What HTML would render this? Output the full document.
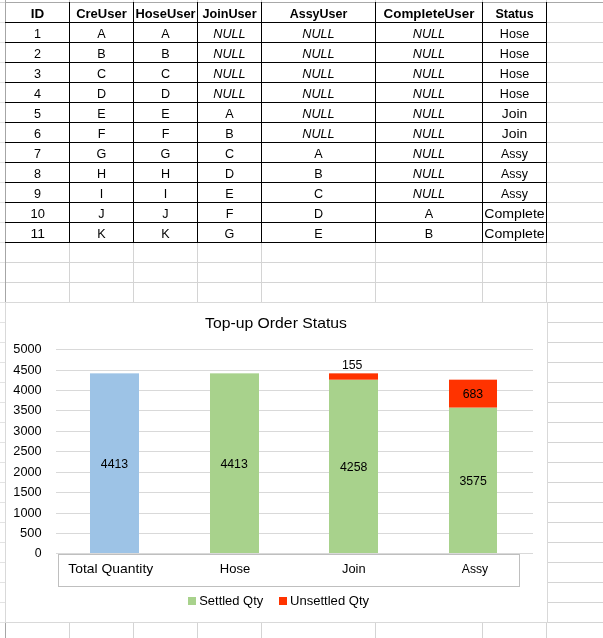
<!DOCTYPE html>
<html><head><meta charset="utf-8"><style>
html,body{margin:0;padding:0;background:#fff;width:603px;height:638px;overflow:hidden}
svg{display:block;will-change:transform;font-family:"Liberation Sans",sans-serif}
</style></head><body>
<svg width="603" height="638" viewBox="0 0 603 638">
<rect x="0" y="0" width="603" height="638" fill="#fff"/>
<rect x="0" y="2" width="5" height="1" fill="#E3E3E3"/>
<rect x="6" y="2" width="597" height="1" fill="#D4D4D4"/>
<rect x="0" y="22" width="5" height="1" fill="#E3E3E3"/>
<rect x="6" y="22" width="597" height="1" fill="#D4D4D4"/>
<rect x="0" y="42" width="5" height="1" fill="#E3E3E3"/>
<rect x="6" y="42" width="597" height="1" fill="#D4D4D4"/>
<rect x="0" y="62" width="5" height="1" fill="#E3E3E3"/>
<rect x="6" y="62" width="597" height="1" fill="#D4D4D4"/>
<rect x="0" y="82" width="5" height="1" fill="#E3E3E3"/>
<rect x="6" y="82" width="597" height="1" fill="#D4D4D4"/>
<rect x="0" y="102" width="5" height="1" fill="#E3E3E3"/>
<rect x="6" y="102" width="597" height="1" fill="#D4D4D4"/>
<rect x="0" y="122" width="5" height="1" fill="#E3E3E3"/>
<rect x="6" y="122" width="597" height="1" fill="#D4D4D4"/>
<rect x="0" y="142" width="5" height="1" fill="#E3E3E3"/>
<rect x="6" y="142" width="597" height="1" fill="#D4D4D4"/>
<rect x="0" y="162" width="5" height="1" fill="#E3E3E3"/>
<rect x="6" y="162" width="597" height="1" fill="#D4D4D4"/>
<rect x="0" y="182" width="5" height="1" fill="#E3E3E3"/>
<rect x="6" y="182" width="597" height="1" fill="#D4D4D4"/>
<rect x="0" y="202" width="5" height="1" fill="#E3E3E3"/>
<rect x="6" y="202" width="597" height="1" fill="#D4D4D4"/>
<rect x="0" y="222" width="5" height="1" fill="#E3E3E3"/>
<rect x="6" y="222" width="597" height="1" fill="#D4D4D4"/>
<rect x="0" y="242" width="5" height="1" fill="#E3E3E3"/>
<rect x="6" y="242" width="597" height="1" fill="#D4D4D4"/>
<rect x="0" y="262" width="5" height="1" fill="#E3E3E3"/>
<rect x="6" y="262" width="597" height="1" fill="#D4D4D4"/>
<rect x="0" y="282" width="5" height="1" fill="#E3E3E3"/>
<rect x="6" y="282" width="597" height="1" fill="#D4D4D4"/>
<rect x="0" y="302" width="5" height="1" fill="#E3E3E3"/>
<rect x="6" y="302" width="597" height="1" fill="#D4D4D4"/>
<rect x="0" y="322" width="5" height="1" fill="#E3E3E3"/>
<rect x="6" y="322" width="597" height="1" fill="#D4D4D4"/>
<rect x="0" y="342" width="5" height="1" fill="#E3E3E3"/>
<rect x="6" y="342" width="597" height="1" fill="#D4D4D4"/>
<rect x="0" y="362" width="5" height="1" fill="#E3E3E3"/>
<rect x="6" y="362" width="597" height="1" fill="#D4D4D4"/>
<rect x="0" y="382" width="5" height="1" fill="#E3E3E3"/>
<rect x="6" y="382" width="597" height="1" fill="#D4D4D4"/>
<rect x="0" y="402" width="5" height="1" fill="#E3E3E3"/>
<rect x="6" y="402" width="597" height="1" fill="#D4D4D4"/>
<rect x="0" y="422" width="5" height="1" fill="#E3E3E3"/>
<rect x="6" y="422" width="597" height="1" fill="#D4D4D4"/>
<rect x="0" y="442" width="5" height="1" fill="#E3E3E3"/>
<rect x="6" y="442" width="597" height="1" fill="#D4D4D4"/>
<rect x="0" y="462" width="5" height="1" fill="#E3E3E3"/>
<rect x="6" y="462" width="597" height="1" fill="#D4D4D4"/>
<rect x="0" y="482" width="5" height="1" fill="#E3E3E3"/>
<rect x="6" y="482" width="597" height="1" fill="#D4D4D4"/>
<rect x="0" y="502" width="5" height="1" fill="#E3E3E3"/>
<rect x="6" y="502" width="597" height="1" fill="#D4D4D4"/>
<rect x="0" y="522" width="5" height="1" fill="#E3E3E3"/>
<rect x="6" y="522" width="597" height="1" fill="#D4D4D4"/>
<rect x="0" y="542" width="5" height="1" fill="#E3E3E3"/>
<rect x="6" y="542" width="597" height="1" fill="#D4D4D4"/>
<rect x="0" y="562" width="5" height="1" fill="#E3E3E3"/>
<rect x="6" y="562" width="597" height="1" fill="#D4D4D4"/>
<rect x="0" y="582" width="5" height="1" fill="#E3E3E3"/>
<rect x="6" y="582" width="597" height="1" fill="#D4D4D4"/>
<rect x="0" y="602" width="5" height="1" fill="#E3E3E3"/>
<rect x="6" y="602" width="597" height="1" fill="#D4D4D4"/>
<rect x="0" y="622" width="5" height="1" fill="#E3E3E3"/>
<rect x="6" y="622" width="597" height="1" fill="#D4D4D4"/>
<rect x="69" y="0" width="1" height="638" fill="#D4D4D4"/>
<rect x="133" y="0" width="1" height="638" fill="#D4D4D4"/>
<rect x="197" y="0" width="1" height="638" fill="#D4D4D4"/>
<rect x="261" y="0" width="1" height="638" fill="#D4D4D4"/>
<rect x="375" y="0" width="1" height="638" fill="#D4D4D4"/>
<rect x="482" y="0" width="1" height="638" fill="#D4D4D4"/>
<rect x="546" y="0" width="1" height="638" fill="#D4D4D4"/>
<rect x="5" y="0" width="1" height="638" fill="#A6A6A6"/>
<rect x="0" y="2" width="5" height="1" fill="#D4D4D4"/>
<rect x="5" y="2" width="598" height="1" fill="#A8A8A8"/>
<rect x="5" y="22" width="542" height="1" fill="#000"/>
<rect x="5" y="42" width="542" height="1" fill="#000"/>
<rect x="5" y="62" width="542" height="1" fill="#000"/>
<rect x="5" y="82" width="542" height="1" fill="#000"/>
<rect x="5" y="102" width="542" height="1" fill="#000"/>
<rect x="5" y="122" width="542" height="1" fill="#000"/>
<rect x="5" y="142" width="542" height="1" fill="#000"/>
<rect x="5" y="162" width="542" height="1" fill="#000"/>
<rect x="5" y="182" width="542" height="1" fill="#000"/>
<rect x="5" y="202" width="542" height="1" fill="#000"/>
<rect x="5" y="222" width="542" height="1" fill="#000"/>
<rect x="5" y="242" width="542" height="1" fill="#000"/>
<rect x="69" y="2" width="1" height="241" fill="#000"/>
<rect x="133" y="2" width="1" height="241" fill="#000"/>
<rect x="197" y="2" width="1" height="241" fill="#000"/>
<rect x="261" y="2" width="1" height="241" fill="#000"/>
<rect x="375" y="2" width="1" height="241" fill="#000"/>
<rect x="482" y="2" width="1" height="241" fill="#000"/>
<rect x="546" y="2" width="1" height="241" fill="#000"/>
<text x="37.50" y="18.00" font-size="12.6" font-weight="bold" text-anchor="middle" textLength="13.48" lengthAdjust="spacingAndGlyphs">ID</text>
<text x="101.50" y="18.00" font-size="12.6" font-weight="bold" text-anchor="middle" textLength="50.67" lengthAdjust="spacingAndGlyphs">CreUser</text>
<text x="165.50" y="18.00" font-size="12.6" font-weight="bold" text-anchor="middle" textLength="60.15" lengthAdjust="spacingAndGlyphs">HoseUser</text>
<text x="229.50" y="18.00" font-size="12.6" font-weight="bold" text-anchor="middle" textLength="54.20" lengthAdjust="spacingAndGlyphs">JoinUser</text>
<text x="318.50" y="18.00" font-size="12.6" font-weight="bold" text-anchor="middle" textLength="57.55" lengthAdjust="spacingAndGlyphs">AssyUser</text>
<text x="429.00" y="18.00" font-size="12.6" font-weight="bold" text-anchor="middle" textLength="90.80" lengthAdjust="spacingAndGlyphs">CompleteUser</text>
<text x="514.50" y="18.00" font-size="12.6" font-weight="bold" text-anchor="middle" textLength="38.25" lengthAdjust="spacingAndGlyphs">Status</text>
<text x="37.50" y="38.00" font-size="12.6" text-anchor="middle">1</text>
<text x="101.50" y="38.00" font-size="12.6" text-anchor="middle">A</text>
<text x="165.50" y="38.00" font-size="12.6" text-anchor="middle">A</text>
<text x="229.50" y="38.00" font-size="12.6" font-style="italic" text-anchor="middle" textLength="32.35" lengthAdjust="spacingAndGlyphs">NULL</text>
<text x="318.50" y="38.00" font-size="12.6" font-style="italic" text-anchor="middle" textLength="32.35" lengthAdjust="spacingAndGlyphs">NULL</text>
<text x="429.00" y="38.00" font-size="12.6" font-style="italic" text-anchor="middle" textLength="32.35" lengthAdjust="spacingAndGlyphs">NULL</text>
<text x="514.50" y="38.00" font-size="12.6" text-anchor="middle">Hose</text>
<text x="37.50" y="58.00" font-size="12.6" text-anchor="middle">2</text>
<text x="101.50" y="58.00" font-size="12.6" text-anchor="middle">B</text>
<text x="165.50" y="58.00" font-size="12.6" text-anchor="middle">B</text>
<text x="229.50" y="58.00" font-size="12.6" font-style="italic" text-anchor="middle" textLength="32.35" lengthAdjust="spacingAndGlyphs">NULL</text>
<text x="318.50" y="58.00" font-size="12.6" font-style="italic" text-anchor="middle" textLength="32.35" lengthAdjust="spacingAndGlyphs">NULL</text>
<text x="429.00" y="58.00" font-size="12.6" font-style="italic" text-anchor="middle" textLength="32.35" lengthAdjust="spacingAndGlyphs">NULL</text>
<text x="514.50" y="58.00" font-size="12.6" text-anchor="middle">Hose</text>
<text x="37.50" y="78.00" font-size="12.6" text-anchor="middle">3</text>
<text x="101.50" y="78.00" font-size="12.6" text-anchor="middle">C</text>
<text x="165.50" y="78.00" font-size="12.6" text-anchor="middle">C</text>
<text x="229.50" y="78.00" font-size="12.6" font-style="italic" text-anchor="middle" textLength="32.35" lengthAdjust="spacingAndGlyphs">NULL</text>
<text x="318.50" y="78.00" font-size="12.6" font-style="italic" text-anchor="middle" textLength="32.35" lengthAdjust="spacingAndGlyphs">NULL</text>
<text x="429.00" y="78.00" font-size="12.6" font-style="italic" text-anchor="middle" textLength="32.35" lengthAdjust="spacingAndGlyphs">NULL</text>
<text x="514.50" y="78.00" font-size="12.6" text-anchor="middle">Hose</text>
<text x="37.50" y="98.00" font-size="12.6" text-anchor="middle">4</text>
<text x="101.50" y="98.00" font-size="12.6" text-anchor="middle">D</text>
<text x="165.50" y="98.00" font-size="12.6" text-anchor="middle">D</text>
<text x="229.50" y="98.00" font-size="12.6" font-style="italic" text-anchor="middle" textLength="32.35" lengthAdjust="spacingAndGlyphs">NULL</text>
<text x="318.50" y="98.00" font-size="12.6" font-style="italic" text-anchor="middle" textLength="32.35" lengthAdjust="spacingAndGlyphs">NULL</text>
<text x="429.00" y="98.00" font-size="12.6" font-style="italic" text-anchor="middle" textLength="32.35" lengthAdjust="spacingAndGlyphs">NULL</text>
<text x="514.50" y="98.00" font-size="12.6" text-anchor="middle">Hose</text>
<text x="37.50" y="118.00" font-size="12.6" text-anchor="middle">5</text>
<text x="101.50" y="118.00" font-size="12.6" text-anchor="middle">E</text>
<text x="165.50" y="118.00" font-size="12.6" text-anchor="middle">E</text>
<text x="229.50" y="118.00" font-size="12.6" text-anchor="middle">A</text>
<text x="318.50" y="118.00" font-size="12.6" font-style="italic" text-anchor="middle" textLength="32.35" lengthAdjust="spacingAndGlyphs">NULL</text>
<text x="429.00" y="118.00" font-size="12.6" font-style="italic" text-anchor="middle" textLength="32.35" lengthAdjust="spacingAndGlyphs">NULL</text>
<text x="514.50" y="118.00" font-size="12.6" text-anchor="middle" textLength="25.47" lengthAdjust="spacingAndGlyphs">Join</text>
<text x="37.50" y="138.00" font-size="12.6" text-anchor="middle">6</text>
<text x="101.50" y="138.00" font-size="12.6" text-anchor="middle">F</text>
<text x="165.50" y="138.00" font-size="12.6" text-anchor="middle">F</text>
<text x="229.50" y="138.00" font-size="12.6" text-anchor="middle">B</text>
<text x="318.50" y="138.00" font-size="12.6" font-style="italic" text-anchor="middle" textLength="32.35" lengthAdjust="spacingAndGlyphs">NULL</text>
<text x="429.00" y="138.00" font-size="12.6" font-style="italic" text-anchor="middle" textLength="32.35" lengthAdjust="spacingAndGlyphs">NULL</text>
<text x="514.50" y="138.00" font-size="12.6" text-anchor="middle" textLength="25.47" lengthAdjust="spacingAndGlyphs">Join</text>
<text x="37.50" y="158.00" font-size="12.6" text-anchor="middle">7</text>
<text x="101.50" y="158.00" font-size="12.6" text-anchor="middle">G</text>
<text x="165.50" y="158.00" font-size="12.6" text-anchor="middle">G</text>
<text x="229.50" y="158.00" font-size="12.6" text-anchor="middle">C</text>
<text x="318.50" y="158.00" font-size="12.6" text-anchor="middle">A</text>
<text x="429.00" y="158.00" font-size="12.6" font-style="italic" text-anchor="middle" textLength="32.35" lengthAdjust="spacingAndGlyphs">NULL</text>
<text x="514.50" y="158.00" font-size="12.6" text-anchor="middle" textLength="26.89" lengthAdjust="spacingAndGlyphs">Assy</text>
<text x="37.50" y="178.00" font-size="12.6" text-anchor="middle">8</text>
<text x="101.50" y="178.00" font-size="12.6" text-anchor="middle">H</text>
<text x="165.50" y="178.00" font-size="12.6" text-anchor="middle">H</text>
<text x="229.50" y="178.00" font-size="12.6" text-anchor="middle">D</text>
<text x="318.50" y="178.00" font-size="12.6" text-anchor="middle">B</text>
<text x="429.00" y="178.00" font-size="12.6" font-style="italic" text-anchor="middle" textLength="32.35" lengthAdjust="spacingAndGlyphs">NULL</text>
<text x="514.50" y="178.00" font-size="12.6" text-anchor="middle" textLength="26.89" lengthAdjust="spacingAndGlyphs">Assy</text>
<text x="37.50" y="198.00" font-size="12.6" text-anchor="middle">9</text>
<text x="101.50" y="198.00" font-size="12.6" text-anchor="middle">I</text>
<text x="165.50" y="198.00" font-size="12.6" text-anchor="middle">I</text>
<text x="229.50" y="198.00" font-size="12.6" text-anchor="middle">E</text>
<text x="318.50" y="198.00" font-size="12.6" text-anchor="middle">C</text>
<text x="429.00" y="198.00" font-size="12.6" font-style="italic" text-anchor="middle" textLength="32.35" lengthAdjust="spacingAndGlyphs">NULL</text>
<text x="514.50" y="198.00" font-size="12.6" text-anchor="middle" textLength="26.89" lengthAdjust="spacingAndGlyphs">Assy</text>
<text x="37.80" y="218.00" font-size="12.6" text-anchor="middle" textLength="14.40" lengthAdjust="spacingAndGlyphs">10</text>
<text x="101.50" y="218.00" font-size="12.6" text-anchor="middle">J</text>
<text x="165.50" y="218.00" font-size="12.6" text-anchor="middle">J</text>
<text x="229.50" y="218.00" font-size="12.6" text-anchor="middle">F</text>
<text x="318.50" y="218.00" font-size="12.6" text-anchor="middle">D</text>
<text x="429.00" y="218.00" font-size="12.6" text-anchor="middle">A</text>
<text x="514.50" y="218.00" font-size="12.6" text-anchor="middle" textLength="60.41" lengthAdjust="spacingAndGlyphs">Complete</text>
<text x="37.80" y="238.00" font-size="12.6" text-anchor="middle" textLength="14.40" lengthAdjust="spacingAndGlyphs">11</text>
<text x="101.50" y="238.00" font-size="12.6" text-anchor="middle">K</text>
<text x="165.50" y="238.00" font-size="12.6" text-anchor="middle">K</text>
<text x="229.50" y="238.00" font-size="12.6" text-anchor="middle">G</text>
<text x="318.50" y="238.00" font-size="12.6" text-anchor="middle">E</text>
<text x="429.00" y="238.00" font-size="12.6" text-anchor="middle">B</text>
<text x="514.50" y="238.00" font-size="12.6" text-anchor="middle" textLength="60.41" lengthAdjust="spacingAndGlyphs">Complete</text>
<rect x="5" y="302" width="543" height="321" fill="#D9D9D9"/>
<rect x="6" y="303" width="541" height="319" fill="#FFFFFF"/>
<text x="276.00" y="327.80" font-size="14.8" text-anchor="middle" textLength="141.86" lengthAdjust="spacingAndGlyphs">Top-up Order Status</text>
<rect x="56" y="349" width="477" height="1" fill="#D9D9D9"/>
<text x="41.60" y="353.00" font-size="12.3" text-anchor="end" textLength="28.28" lengthAdjust="spacingAndGlyphs">5000</text>
<rect x="56" y="370" width="477" height="1" fill="#D9D9D9"/>
<text x="41.60" y="374.00" font-size="12.3" text-anchor="end" textLength="28.28" lengthAdjust="spacingAndGlyphs">4500</text>
<rect x="56" y="390" width="477" height="1" fill="#D9D9D9"/>
<text x="41.60" y="394.00" font-size="12.3" text-anchor="end" textLength="28.28" lengthAdjust="spacingAndGlyphs">4000</text>
<rect x="56" y="410" width="477" height="1" fill="#D9D9D9"/>
<text x="41.60" y="414.00" font-size="12.3" text-anchor="end" textLength="28.28" lengthAdjust="spacingAndGlyphs">3500</text>
<rect x="56" y="431" width="477" height="1" fill="#D9D9D9"/>
<text x="41.60" y="435.00" font-size="12.3" text-anchor="end" textLength="28.28" lengthAdjust="spacingAndGlyphs">3000</text>
<rect x="56" y="451" width="477" height="1" fill="#D9D9D9"/>
<text x="41.60" y="455.00" font-size="12.3" text-anchor="end" textLength="28.28" lengthAdjust="spacingAndGlyphs">2500</text>
<rect x="56" y="472" width="477" height="1" fill="#D9D9D9"/>
<text x="41.60" y="476.00" font-size="12.3" text-anchor="end" textLength="28.28" lengthAdjust="spacingAndGlyphs">2000</text>
<rect x="56" y="492" width="477" height="1" fill="#D9D9D9"/>
<text x="41.60" y="496.00" font-size="12.3" text-anchor="end" textLength="28.28" lengthAdjust="spacingAndGlyphs">1500</text>
<rect x="56" y="513" width="477" height="1" fill="#D9D9D9"/>
<text x="41.60" y="517.00" font-size="12.3" text-anchor="end" textLength="28.28" lengthAdjust="spacingAndGlyphs">1000</text>
<rect x="56" y="533" width="477" height="1" fill="#D9D9D9"/>
<text x="41.60" y="537.00" font-size="12.3" text-anchor="end" textLength="21.50" lengthAdjust="spacingAndGlyphs">500</text>
<text x="41.60" y="557.20" font-size="12.3" text-anchor="end">0</text>
<rect x="90" y="373.35" width="49" height="180.05" fill="#9DC3E6"/>
<rect x="210" y="373.35" width="49" height="180.05" fill="#A8D28C"/>
<rect x="329" y="379.67" width="49" height="173.73" fill="#A8D28C"/>
<rect x="329" y="373.35" width="49" height="6.32" fill="#FF3300"/>
<rect x="449" y="407.54" width="48" height="145.86" fill="#A8D28C"/>
<rect x="449" y="379.67" width="48" height="27.87" fill="#FF3300"/>
<text x="114.50" y="468.00" font-size="12.3" text-anchor="middle">4413</text>
<text x="234.10" y="468.00" font-size="12.3" text-anchor="middle">4413</text>
<text x="353.70" y="471.40" font-size="12.3" text-anchor="middle">4258</text>
<text x="352.20" y="368.80" font-size="12.3" text-anchor="middle">155</text>
<text x="472.90" y="397.90" font-size="12.3" text-anchor="middle">683</text>
<text x="473.10" y="484.70" font-size="12.3" text-anchor="middle">3575</text>
<rect x="56" y="553" width="477" height="1" fill="#D9D9D9"/>
<rect x="58.5" y="554.5" width="461" height="32" fill="none" stroke="#BFBFBF" stroke-width="1"/>
<text x="110.80" y="573.00" font-size="12.6" text-anchor="middle" textLength="84.94" lengthAdjust="spacingAndGlyphs">Total Quantity</text>
<text x="235.10" y="573.00" font-size="12.6" text-anchor="middle" textLength="30.42" lengthAdjust="spacingAndGlyphs">Hose</text>
<text x="353.75" y="573.00" font-size="12.6" text-anchor="middle" textLength="23.59" lengthAdjust="spacingAndGlyphs">Join</text>
<text x="475.00" y="573.00" font-size="12.6" text-anchor="middle" textLength="26.39" lengthAdjust="spacingAndGlyphs">Assy</text>
<rect x="188" y="597" width="8" height="8" fill="#A8D28C"/>
<text x="231.25" y="605.00" font-size="12.3" text-anchor="middle" textLength="64.04" lengthAdjust="spacingAndGlyphs">Settled Qty</text>
<rect x="279" y="597" width="8" height="8" fill="#FF3300"/>
<text x="329.55" y="605.00" font-size="12.3" text-anchor="middle" textLength="79.05" lengthAdjust="spacingAndGlyphs">Unsettled Qty</text>
</svg>
</body></html>
